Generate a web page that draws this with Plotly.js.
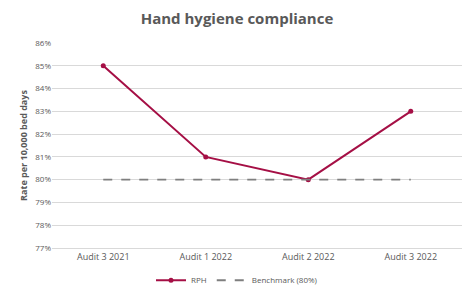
<!DOCTYPE html>
<html><head><meta charset="utf-8">
<script src="https://cdn.plot.ly/plotly-3.0.1.min.js"></script>
<style>html,body{margin:0;padding:0;background:#fff}#chart{width:474px;height:295px}</style>
</head><body><div id="chart"></div>
<script>
const categories = ["Audit 3 2021", "Audit 1 2022", "Audit 2 2022", "Audit 3 2022"];
const rphValues = [0.85, 0.81, 0.80, 0.83];
const benchmarkValues = [0.80, 0.80, 0.80, 0.80];
const seriesNames = ["RPH", "Benchmark (80%)"];

const traces = [
  {x: categories, y: rphValues, name: seriesNames[0], type: "scatter", mode: "lines+markers",
   line: {color: "#a50f45", width: 2}, marker: {color: "#a50f45", size: 5}},
  {x: categories, y: benchmarkValues, name: seriesNames[1], type: "scatter", mode: "lines",
   line: {color: "#7f7f7f", width: 1.8, dash: "dash"}}
];
const layout = {
  width: 474, height: 295,
  margin: {l: 52, r: 12, t: 43, b: 47},
  paper_bgcolor: "#fff", plot_bgcolor: "#fff",
  font: {family: "Open Sans, Liberation Sans, sans-serif", color: "#595959", size: 9},
  title: {text: "<b>Hand hygiene compliance</b>", x: 0.5, xanchor: "center", y: 0.937, yanchor: "middle",
          font: {size: 15, color: "#595959", family: "Open Sans, sans-serif"}},
  xaxis: {type: "category", range: [-0.5, 3.5], showgrid: false, zeroline: false,
          showline: true, linecolor: "#d9d9d9", linewidth: 1, ticks: "", tickfont: {size: 9, color: "#595959"}},
  yaxis: {range: [0.77, 0.86], dtick: 0.01, tickformat: ".0%", showgrid: true, gridcolor: "#d9d9d9",
          gridwidth: 1, zeroline: false, showline: false, ticks: "", tickfont: {size: 8, color: "#595959"},
          title: {text: "<b>Rate per 10,000 bed days</b>", font: {size: 9, color: "#595959"}, standoff: 6}},
  showlegend: true,
  legend: {orientation: "h", x: 0.5, xanchor: "center", xref: "container", y: 0.05, yanchor: "middle", yref: "container",
           font: {size: 8, color: "#595959"}, itemwidth: 30}
};
Plotly.newPlot("chart", traces, layout, {displayModeBar: false, staticPlot: true});
</script></body></html>
